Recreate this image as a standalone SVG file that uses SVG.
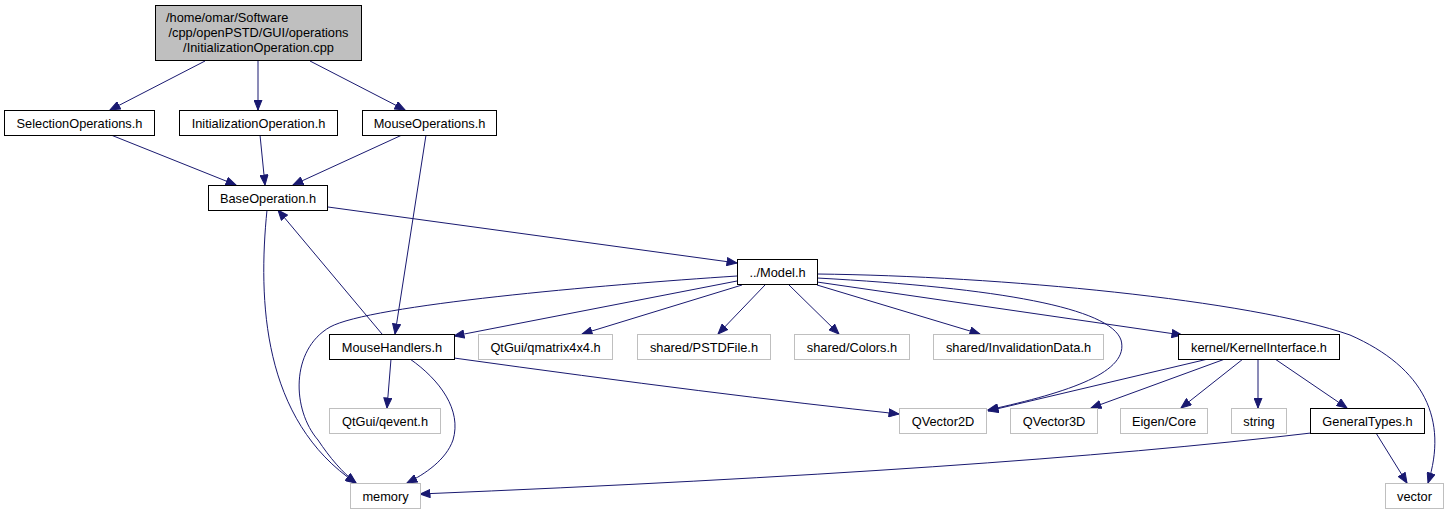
<svg xmlns="http://www.w3.org/2000/svg" width="1449" height="515" viewBox="0 0 1449 515">
<style>
  .nd rect { fill: #ffffff; stroke: #000000; stroke-width: 1; }
  .nd.ext rect { stroke: #bfbfbf; }
  .nd.root rect { fill: #bfbfbf; }
  .nd text { font-family: "Liberation Sans", Arial, sans-serif; font-size: 12.8px; fill: #000000; text-anchor: middle; }
  .e path { fill: none; stroke: #191970; stroke-width: 1; }
</style>
<defs>
  <marker id="arr" viewBox="0 0 11 9" refX="10.5" refY="4.5" markerWidth="11" markerHeight="9" markerUnits="userSpaceOnUse" orient="auto">
    <path d="M0.5,0.5 L10.5,4.5 L0.5,8.5 z" fill="#191970" stroke="#191970" stroke-width="1"/>
  </marker>
</defs>
<rect width="1449" height="515" fill="#ffffff"/>

<g id="edges" class="e">
  <path marker-end="url(#arr)" d="M205,61 L110,110"/>
  <path marker-end="url(#arr)" d="M258,61 L258,110"/>
  <path marker-end="url(#arr)" d="M310,61 L405,110"/>
  <path marker-end="url(#arr)" d="M111,135 L236,185"/>
  <path marker-end="url(#arr)" d="M260,135 L265,185"/>
  <path marker-end="url(#arr)" d="M402,135 L293,185"/>
  <path marker-end="url(#arr)" d="M426,135 L395,334"/>
  <path marker-end="url(#arr)" d="M382,334 L278,210"/>
  <path marker-end="url(#arr)" d="M328,207 L737,263"/>
  <path marker-end="url(#arr)" d="M267,210 C258,300 262,420 356,483"/>
  <path marker-end="url(#arr)" d="M737,276 C600,285 370,305 330,327 C290,350 292,410 318,440 C330,458 342,472 356,483"/>
  <path marker-end="url(#arr)" d="M737,281 L454,336"/>
  <path marker-end="url(#arr)" d="M742,285 L582,334"/>
  <path marker-end="url(#arr)" d="M765,285 L718,334"/>
  <path marker-end="url(#arr)" d="M789,285 L839,334"/>
  <path marker-end="url(#arr)" d="M817,285 L980,334"/>
  <path marker-end="url(#arr)" d="M817,282 L1182,335"/>
  <path marker-end="url(#arr)" d="M817,278 C1000,288 1110,308 1121,340 C1130,372 1070,392 988,410"/>
  <path marker-end="url(#arr)" d="M817,274 C1000,276 1250,300 1350,335 C1425,368 1448,420 1428,483"/>
  <path marker-end="url(#arr)" d="M391,359 L387,408"/>
  <path marker-end="url(#arr)" d="M410,359 C440,380 462,410 453,440 C446,460 425,474 407,483"/>
  <path marker-end="url(#arr)" d="M454,358 Q720,395 899,414"/>
  <path marker-end="url(#arr)" d="M1208,359 L988,411"/>
  <path marker-end="url(#arr)" d="M1225,359 L1091,408"/>
  <path marker-end="url(#arr)" d="M1243,359 L1181,408"/>
  <path marker-end="url(#arr)" d="M1258,359 L1258,408"/>
  <path marker-end="url(#arr)" d="M1275,359 L1347,408"/>
  <path marker-end="url(#arr)" d="M1311,433 Q1000,470 420,494"/>
  <path marker-end="url(#arr)" d="M1376,433 L1407,483"/>
</g>

<g id="n_root" class="nd root">
  <rect x="155.5" y="5.5" width="206" height="55"/>
  <text x="166" y="21.5" style="text-anchor:start">/home/omar/Software</text>
  <text x="258.5" y="36.5">/cpp/openPSTD/GUI/operations</text>
  <text x="258.5" y="51.5">/InitializationOperation.cpp</text>
</g>
<g id="n_sel" class="nd"><rect x="4.5" y="110.5" width="150" height="25"/><text x="79.5" y="127.5">SelectionOperations.h</text></g>
<g id="n_init" class="nd"><rect x="179.5" y="110.5" width="158" height="25"/><text x="258.5" y="127.5">InitializationOperation.h</text></g>
<g id="n_mouseop" class="nd"><rect x="362.5" y="110.5" width="134" height="25"/><text x="429.5" y="127.5">MouseOperations.h</text></g>
<g id="n_base" class="nd"><rect x="208.5" y="185.5" width="119" height="25"/><text x="268" y="202.5">BaseOperation.h</text></g>
<g id="n_model" class="nd"><rect x="737.5" y="259.5" width="80" height="25"/><text x="777.5" y="276.5">../Model.h</text></g>
<g id="n_mh" class="nd"><rect x="329.5" y="334.5" width="125" height="25"/><text x="392" y="351.5">MouseHandlers.h</text></g>
<g id="n_qmatrix" class="nd ext"><rect x="478.5" y="334.5" width="134" height="25"/><text x="545.5" y="351.5">QtGui/qmatrix4x4.h</text></g>
<g id="n_pstd" class="nd ext"><rect x="637.5" y="334.5" width="133" height="25"/><text x="704" y="351.5">shared/PSTDFile.h</text></g>
<g id="n_colors" class="nd ext"><rect x="794.5" y="334.5" width="115" height="25"/><text x="852" y="351.5">shared/Colors.h</text></g>
<g id="n_inval" class="nd ext"><rect x="933.5" y="334.5" width="170" height="25"/><text x="1018.5" y="351.5">shared/InvalidationData.h</text></g>
<g id="n_kernel" class="nd"><rect x="1178.5" y="334.5" width="161" height="25"/><text x="1259" y="351.5">kernel/KernelInterface.h</text></g>
<g id="n_qevent" class="nd ext"><rect x="329.5" y="408.5" width="111" height="25"/><text x="385" y="425.5">QtGui/qevent.h</text></g>
<g id="n_qv2d" class="nd ext"><rect x="899.5" y="408.5" width="87" height="25"/><text x="943" y="425.5">QVector2D</text></g>
<g id="n_qv3d" class="nd ext"><rect x="1010.5" y="408.5" width="87" height="25"/><text x="1054" y="425.5">QVector3D</text></g>
<g id="n_eigen" class="nd ext"><rect x="1120.5" y="408.5" width="87" height="25"/><text x="1164" y="425.5">Eigen/Core</text></g>
<g id="n_string" class="nd ext"><rect x="1231.5" y="408.5" width="55" height="25"/><text x="1259" y="425.5">string</text></g>
<g id="n_gt" class="nd"><rect x="1310.5" y="408.5" width="114" height="25"/><text x="1367.5" y="425.5">GeneralTypes.h</text></g>
<g id="n_memory" class="nd ext"><rect x="350.5" y="483.5" width="70" height="25"/><text x="385.5" y="500.5">memory</text></g>
<g id="n_vector" class="nd ext"><rect x="1385.5" y="483.5" width="58" height="25"/><text x="1414.5" y="500.5">vector</text></g>
</svg>
